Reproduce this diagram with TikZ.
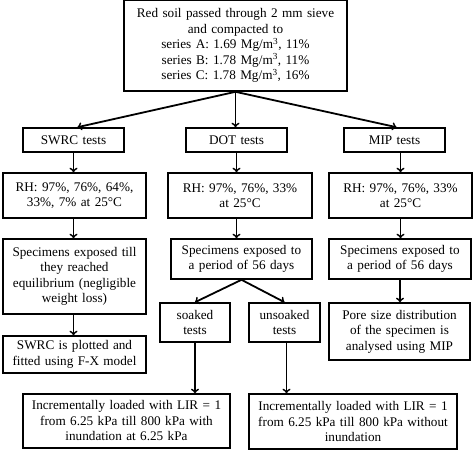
\documentclass[tikz,border=0pt]{standalone}
\usepackage{fontspec}
\setmainfont{Liberation Serif}
\usepackage{tikz}
\usetikzlibrary{arrows, positioning, calc}

\begin{document}
\begin{tikzpicture}[x=1pt, y=-1pt, >=to,
    stage/.style={draw, rectangle, line width=1.6pt, inner xsep=0pt, inner ysep=1pt, align=center,
        font=\fontsize{13.2}{15.5}\selectfont},
    flow/.style={->, line width=1.8pt}]
    \useasboundingbox (0,0) rectangle (474,452);
    % Nodes
    \node (soil) [stage, text width=223, minimum height=91] at (235.5,45.5)
        {Red soil passed through 2 mm sieve\\and compacted to\\
         series A: 1.69 Mg/m\textsuperscript{3}, 11\%\\
         series B: 1.78 Mg/m\textsuperscript{3}, 11\%\\
         series C: 1.78 Mg/m\textsuperscript{3}, 16\%};
    \node (swrc) [stage, text width=101, minimum height=24] at (73.5,140) {SWRC tests};
    \node (dot) [stage, text width=101, minimum height=24] at (236.5,140) {DOT tests};
    \node (mip) [stage, text width=101, minimum height=24] at (394.5,140) {MIP tests};
    \node (rhswrc) [stage, text width=143, minimum height=45] at (74.5,195.5) {RH: 97\%, 76\%, 64\%,\\33\%, 7\% at 25°C};
    \node (rhdot) [stage, text width=144, minimum height=45] at (240,195.5) {RH: 97\%, 76\%, 33\%\\at 25°C};
    \node (rhmip) [stage, text width=143, minimum height=45] at (400.5,195.5) {RH: 97\%, 76\%, 33\%\\at 25°C};
    \node (expswrc) [stage, text width=143, minimum height=75] at (74.5,276.5) {Specimens exposed till\\they reached\\equilibrium (negligible\\weight loss)};
    \node (expdot) [stage, text width=141, minimum height=40] at (241.5,259) {Specimens exposed to\\a period of 56 days};
    \node (expmip) [stage, text width=142, minimum height=40] at (400,259) {Specimens exposed to\\a period of 56 days};
    \node (fit) [stage, text width=143, minimum height=37] at (74.5,354.5) {SWRC is plotted and\\fitted using F-X model};
    \node (soaked) [stage, text width=70, minimum height=39] at (195,322.5) {soaked\\tests};
    \node (unsoaked) [stage, text width=71, minimum height=39] at (284.5,322.5) {unsoaked\\tests};
    \node (pore) [stage, text width=141, minimum height=57] at (399.5,331.5) {Pore size distribution\\of the specimen is\\analysed using MIP};
    \node (loadsoak) [stage, text width=207, minimum height=54] at (126.5,421) {Incrementally loaded with LIR = 1\\from 6.25 kPa till 800 kPa with\\inundation at 6.25 kPa};
    \node (loadunsoak) [stage, text width=208, minimum height=55] at (353,421.5) {Incrementally loaded with LIR = 1\\from 6.25 kPa till 800 kPa without\\inundation};

    % Flow
    \draw[flow] (soil.south) -- ($(swrc.north)+(4,0)$);
    \draw[flow] (soil.south) -- (soil.south |- dot.north);
    \draw[flow] (soil.south) -- ($(mip.north)+(2,0)$);
    \draw[flow] (swrc.south) -- (swrc.south |- rhswrc.north);
    \draw[flow] (rhswrc.south -| swrc.south) -- (swrc.south |- expswrc.north);
    \draw[flow] (expswrc.south -| swrc.south) -- (swrc.south |- fit.north);
    \draw[flow] (dot.south) -- (dot.south |- rhdot.north);
    \draw[flow] (rhdot.south -| dot.south) -- (dot.south |- expdot.north);
    \draw[flow] (expdot.south) -- (soaked.north);
    \draw[flow] (expdot.south) -- (unsoaked.north);
    \draw[flow] (rhmip.north |- mip.south) -- (rhmip.north);
    \draw[flow] (rhmip.south) -- (rhmip.south |- expmip.north);
    \draw[flow] (expmip.south) -- (expmip.south |- pore.north);
    \draw[flow] (soaked.south) -- (soaked.south |- loadsoak.north);
    \draw[flow] ($(unsoaked.south)+(2,0)$) -- ($(unsoaked.south |- loadunsoak.north)+(2,0)$);
\end{tikzpicture}
\end{document}
